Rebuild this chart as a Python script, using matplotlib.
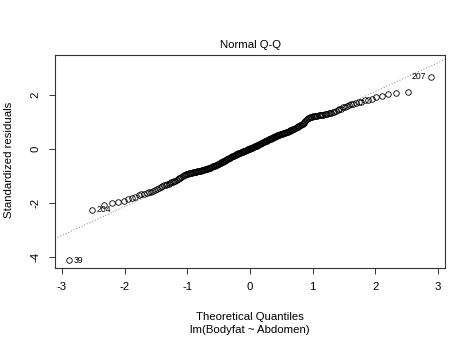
import numpy as np
import matplotlib
matplotlib.use("Agg")
import matplotlib.pyplot as plt
from statistics import NormalDist

# Sorted standardized residuals (n = 252)
resid_lower = [
    -4.12, -2.26, -2.10, -2.02, -1.97, -1.93, -1.88, -1.83, -1.78, -1.73,
    -1.69, -1.66, -1.63, -1.61, -1.59, -1.57, -1.54, -1.50, -1.46, -1.42,
    -1.39, -1.35, -1.33, -1.31, -1.29, -1.27, -1.25, -1.22, -1.20, -1.18,
    -1.16, -1.13, -1.10, -1.07, -1.04, -1.01, -0.99, -0.97, -0.95, -0.93,
    -0.92, -0.91, -0.90, -0.89, -0.89, -0.88, -0.87, -0.86, -0.86, -0.85,
]
resid_middle = [
    -0.84, -0.83, -0.83, -0.82, -0.81, -0.80, -0.80, -0.79, -0.78, -0.77,
    -0.76, -0.75, -0.74, -0.73, -0.72, -0.71, -0.70, -0.69, -0.67, -0.66,
    -0.65, -0.64, -0.63, -0.61, -0.60, -0.59, -0.58, -0.57, -0.55, -0.54,
    -0.53, -0.51, -0.50, -0.48, -0.47, -0.46, -0.44, -0.43, -0.41, -0.40,
    -0.39, -0.37, -0.36, -0.34, -0.33, -0.32, -0.30, -0.29, -0.28, -0.27,
    -0.26, -0.24, -0.23, -0.22, -0.21, -0.20, -0.19, -0.18, -0.17, -0.16,
    -0.15, -0.14, -0.13, -0.12, -0.11, -0.10, -0.09, -0.08, -0.07, -0.06,
    -0.05, -0.04, -0.03, -0.02, -0.01, 0.00,
]
resid_upper = [
    0.01, 0.02, 0.03, 0.04, 0.05, 0.06, 0.07, 0.08, 0.09, 0.10,
    0.11, 0.12, 0.14, 0.15, 0.16, 0.17, 0.18, 0.20, 0.21, 0.22,
    0.24, 0.25, 0.26, 0.27, 0.28, 0.29, 0.30, 0.31, 0.32, 0.34,
    0.35, 0.36, 0.37, 0.38, 0.40, 0.41, 0.42, 0.43, 0.44, 0.46,
    0.47, 0.48, 0.49, 0.50, 0.51, 0.52, 0.53, 0.54, 0.55, 0.55,
    0.56, 0.57, 0.58, 0.59, 0.60, 0.61, 0.62, 0.63, 0.65, 0.66,
    0.67, 0.69, 0.70, 0.71, 0.73, 0.74, 0.76, 0.77, 0.79, 0.80,
    0.82, 0.84, 0.86, 0.88, 0.90, 0.92, 0.94, 0.98, 1.02, 1.06,
    1.10, 1.12, 1.14, 1.16, 1.17, 1.18, 1.19, 1.20, 1.21, 1.22,
    1.22, 1.23, 1.24, 1.25, 1.25, 1.26, 1.27, 1.28, 1.29, 1.30,
    1.31, 1.33, 1.35, 1.37, 1.39, 1.42, 1.45, 1.48, 1.52, 1.55,
    1.58, 1.61, 1.64, 1.66, 1.68, 1.71, 1.74, 1.78, 1.81, 1.85,
    1.89, 1.94, 2.02, 2.04, 2.10, 2.66,
]
# Labelled extreme observations: (rank in sorted residuals, label)
label_ranks = [0, 1, 251]
label_texts = ["39", "204", "207"]

title = "Normal Q-Q"
xlabel = "Theoretical Quantiles"
sublabel = "lm(Bodyfat ~ Abdomen)"
ylabel = "Standardized residuals"
xticks = [-3, -2, -1, 0, 1, 2, 3]
yticks = [-4, -2, 0, 2]

plt.rcParams["font.family"] = ["Liberation Sans", "DejaVu Sans"]
plt.rcParams["axes.unicode_minus"] = False

resid = np.array(resid_lower + resid_middle + resid_upper)
n = len(resid)
nd = NormalDist()
theo = np.array([nd.inv_cdf((i + 0.5) / n) for i in range(n)])

W, H = 474, 338
fig = plt.figure(figsize=(W / 100, H / 100), dpi=100)
ax = fig.add_axes([55 / W, 1 - 268 / H, 390 / W, 213 / H])

# reference line through quartiles (like qqline)
y25, y75 = np.quantile(resid, [0.25, 0.75])
x25, x75 = nd.inv_cdf(0.25), nd.inv_cdf(0.75)
slope = (y75 - y25) / (x75 - x25)
inter = y25 - slope * x25

xr = theo.max() - theo.min()
xlim = (theo.min() - 0.04 * xr, theo.max() + 0.04 * xr)
ylo, yhi = resid.min(), resid.max() + 0.075 * (resid.max() - resid.min())
yr = yhi - ylo
ylim = (ylo - 0.04 * yr, yhi + 0.04 * yr)

xx = np.array(xlim)
ax.plot(xx, inter + slope * xx, color="#808080", lw=0.7, ls=(0, (1, 2)), zorder=1)
ax.plot(theo, resid, ls="none", marker="o", ms=4.0, mfc="none", mec="black",
        mew=0.6, zorder=2)

for r, t in zip(label_ranks, label_texts):
    if theo[r] < 0:
        ax.annotate(t, (theo[r], resid[r]), xytext=(3, 0), textcoords="offset points",
                    ha="left", va="center", fontsize=6.2)
    else:
        ax.annotate(t, (theo[r], resid[r]), xytext=(-3, 0), textcoords="offset points",
                    ha="right", va="center", fontsize=6.2)

ax.set_xlim(xlim)
ax.set_ylim(ylim)
ax.set_xticks(xticks)
ax.set_yticks(yticks)
ax.set_xticklabels([str(v) for v in xticks])
ax.set_yticklabels([str(v) for v in yticks], rotation=90, va="center")
ax.tick_params(axis="both", direction="out", length=4.3, width=0.7,
               labelsize=8.2, color="#333333")
ax.tick_params(axis="x", pad=6)
ax.tick_params(axis="y", pad=6)
for s in ax.spines.values():
    s.set_linewidth(0.8)
    s.set_color("#333333")

fig.text(250 / W, 1 - 45 / H, title, ha="center", va="center", fontsize=8.2)
fig.text(250 / W, 1 - 317 / H, xlabel, ha="center", va="center", fontsize=8.2)
fig.text(250 / W, 1 - 330 / H, sublabel, ha="center", va="center", fontsize=8.2)
fig.text(9 / W, 1 - 160 / H, ylabel, ha="center", va="center", rotation=90,
         fontsize=8.2)

fig.savefig("out.png", dpi=100)
